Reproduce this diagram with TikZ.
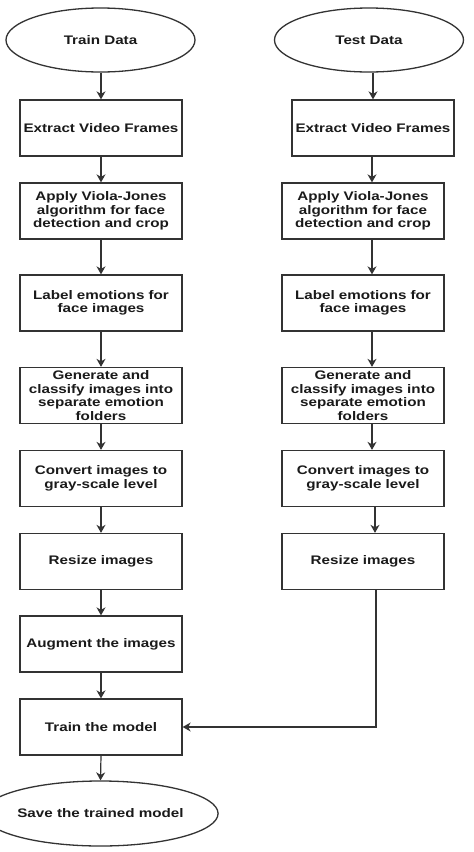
\documentclass[tikz,border=0pt]{standalone}
\usepackage{fontspec}
\setmainfont{Liberation Sans}[FakeStretch=1.225]
\usetikzlibrary{shapes.geometric,arrows.meta}
\definecolor{linec}{HTML}{333333}
\definecolor{txtc}{HTML}{1A1A1A}
\begin{document}
\begin{tikzpicture}[x=1pt,y=-1pt,
  box/.style={draw=linec, line width=1.3pt, minimum width=162pt, minimum height=56pt,
    inner sep=0pt, text width=160pt, align=center, text=txtc,
    font=\bfseries\fontsize{12.4}{13.6}\selectfont},
  oval/.style={ellipse, draw=linec, line width=1.3pt, minimum width=189pt, minimum height=64pt,
    inner sep=0pt, align=center, text=txtc, font=\bfseries\fontsize{12.4}{13.6}\selectfont},
  arr/.style={draw=linec, line width=1.2pt, -{Stealth[length=8pt,width=9pt,inset=2.5pt]}}]
\useasboundingbox (0,0) rectangle (474,852);
\fill[white] (0,0) rectangle (474,852);
% left column
\node[oval] (trd) at (100.5,40) {Train Data};
\node[box] (lex) at (101,128) {Extract Video Frames};
\node[box] (lap) at (101,211) {Apply Viola-Jones\\algorithm for face\\detection and crop};
\node[box] (llb) at (101,303) {Label emotions for\\face images};
\node[box] (lgn) at (101,395.5) {Generate and\\classify images into\\separate emotion\\folders};
\node[box] (lcv) at (101,478.5) {Convert images to\\gray-scale level};
\node[box] (lrs) at (101,561.5) {Resize images};
\node[box] (lau) at (101,644) {Augment the images};
\node[box] (ltr) at (101,727) {Train the model};
\node[oval, minimum height=65pt] (sav) at (100.5,813.5) {Save the trained model};
% right column
\node[oval] (tsd) at (369,40) {Test Data};
\node[box] (rex) at (373,128) {Extract Video Frames};
\node[box] (rap) at (363,211) {Apply Viola-Jones\\algorithm for face\\detection and crop};
\node[box] (rlb) at (363,303) {Label emotions for\\face images};
\node[box] (rgn) at (363,395.5) {Generate and\\classify images into\\separate emotion\\folders};
\node[box] (rcv) at (363,478.5) {Convert images to\\gray-scale level};
\node[box] (rrs) at (363,561.5) {Resize images};
% left arrows
\draw[arr] (trd.south -| lex.north) -- (lex.north);
\draw[arr] (lex.south) -- (lap.north);
\draw[arr] (lap.south) -- (llb.north);
\draw[arr] (llb.south) -- (lgn.north);
\draw[arr] (lgn.south) -- (lcv.north);
\draw[arr] (lcv.south) -- (lrs.north);
\draw[arr] (lrs.south) -- (lau.north);
\draw[arr] (lau.south) -- (ltr.north);
\draw[arr] (ltr.south) -- (sav.north);
% right arrows
\draw[arr] (tsd.south -| rex.north) -- (rex.north);
\draw[arr] ([xshift=-1pt]rex.south) -- ([xshift=9pt]rap.north);
\draw[arr] ([xshift=9pt]rap.south) -- ([xshift=9pt]rlb.north);
\draw[arr] ([xshift=9pt]rlb.south) -- ([xshift=9pt]rgn.north);
\draw[arr] ([xshift=9pt]rgn.south) -- ([xshift=9pt]rcv.north);
\draw[arr] ([xshift=12pt]rcv.south) -- ([xshift=12pt]rrs.north);
\draw[arr] ([xshift=13pt]rrs.south) |- (ltr.east);
\end{tikzpicture}
\end{document}
